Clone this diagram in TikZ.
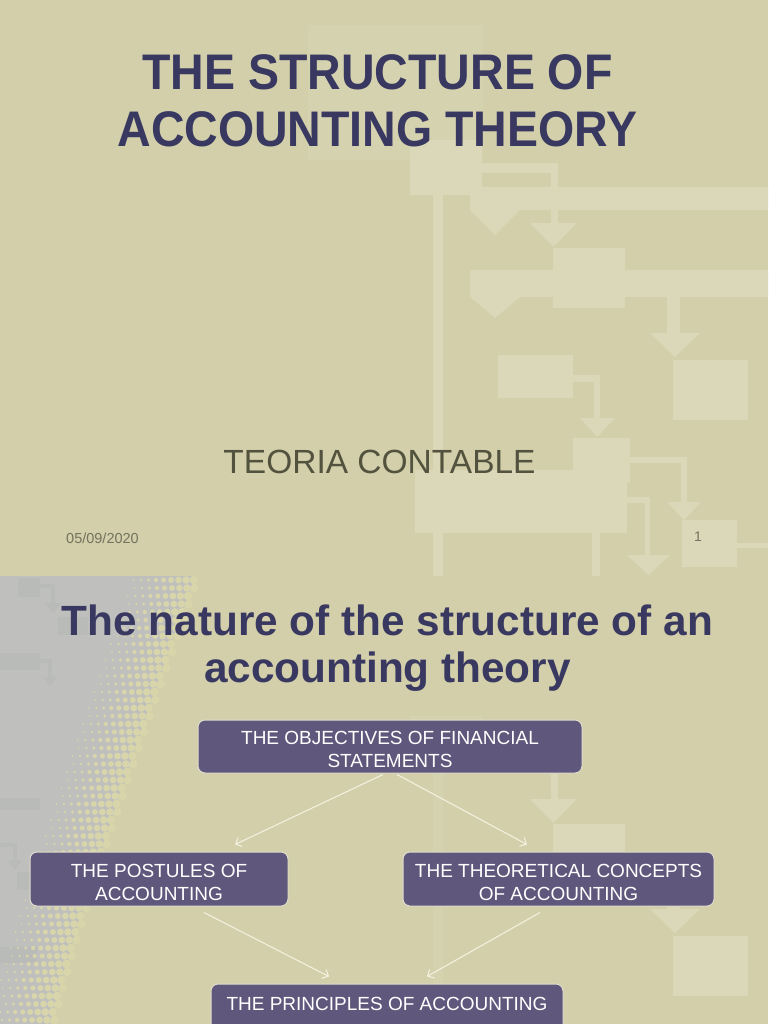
\documentclass[tikz,border=0pt]{standalone}
\usepackage{fontspec}
\setmainfont{Liberation Sans}
\usetikzlibrary{arrows.meta,positioning}
\definecolor{slidebg}{RGB}{210,207,170}
\definecolor{decolight}{RGB}{218,216,185}
\definecolor{decofaint}{RGB}{213,210,175}
\definecolor{panelgray}{RGB}{191,192,189}
\definecolor{panelshape}{RGB}{185,187,184}
\definecolor{dotcol}{RGB}{216,213,170}
\definecolor{titlecol}{RGB}{56,56,96}
\definecolor{subcol}{RGB}{82,82,62}
\definecolor{datecol}{RGB}{115,115,95}
\definecolor{boxfill}{RGB}{96,88,124}
\definecolor{boxline}{RGB}{224,221,205}
\definecolor{arrowcol}{RGB}{242,240,222}

\begin{document}
\begin{tikzpicture}
    [x=1pt,y=-1pt,
    deco/.style={fill=decolight},
    faint/.style={fill=decofaint},
    grayshape/.style={fill=panelshape},
    box/.style={draw=boxline,line width=1pt,fill=boxfill,rounded corners=7pt,
        text=white,align=center,inner sep=0pt,font=\fontsize{19}{23}\selectfont,
        text height=42.6},
    link/.style={draw=arrowcol,line width=1.1pt,-{Straight Barb[length=5pt,width=10pt]}}]
    \useasboundingbox (0,0) rectangle (768,1024);
    \begin{scope}
    \clip (0,0) rectangle (768,1024);

    % first slide
    \fill[slidebg] (0,0) rectangle (768,576);
    \fill[faint] (308,25) rectangle (483,160);
    \fill[deco] (433,150) rectangle (443,576);
    \fill[deco] (410,140) rectangle (482,195);
    \fill[deco] (482,163) rectangle (557,173);
    \fill[deco] (551,163) rectangle (558,223);
    \fill[deco] (530,223) -- (577,223) -- (553.5,247) -- cycle;
    \fill[deco] (470,187) -- (768,187) -- (768,210) -- (520,210) -- (495,235) -- (470,210) -- cycle;
    \fill[deco] (553,248) rectangle (625,308);
    \fill[deco] (470,270) -- (768,270) -- (768,297) -- (520,297) -- (495,318) -- (470,297) -- cycle;
    \fill[deco] (667,297) rectangle (680,333);
    \fill[deco] (650,333) -- (700,333) -- (675,357) -- cycle;
    \fill[deco] (673,360) rectangle (748,420);
    \fill[deco] (498,355) rectangle (573,398);
    \fill[deco] (573,375) rectangle (600,382);
    \fill[deco] (594,375) rectangle (600,418);
    \fill[deco] (580,418) -- (615,418) -- (597,437) -- cycle;
    \fill[deco] (573,438) rectangle (630,483);
    \fill[deco] (630,457) rectangle (687,463);
    \fill[deco] (681,457) rectangle (687,502);
    \fill[deco] (667,502) -- (701,502) -- (684,520) -- cycle;
    \fill[deco] (737,543) rectangle (768,548);
    \fill[deco] (682,520) rectangle (737,567);
    \fill[deco] (415,470) rectangle (627,533);
    \fill[deco] (592,483) rectangle (600,576);
    \fill[deco] (627,497) rectangle (650,503);
    \fill[deco] (645,497) rectangle (650,555);
    \fill[deco] (627,555) -- (670,555) -- (648.5,575) -- cycle;

    \node[text=titlecol,font=\bfseries\fontsize{50}{57}\selectfont,align=center,inner sep=0pt,
        xscale=0.93,transform shape]
        (title) at (377.5,100.6) {THE STRUCTURE OF\\ACCOUNTING THEORY};
    \node[text=subcol,font=\fontsize{33.5}{40}\selectfont,inner sep=0pt]
        (subtitle) at (379.5,462) {TEORIA CONTABLE};
    \node[text=datecol,font=\fontsize{14.5}{17}\selectfont,inner sep=0pt]
        (date) at (102.5,538) {05/09/2020};
    \node[text=datecol,font=\fontsize{14}{17}\selectfont,inner sep=0pt]
        (slidenum) at (698,537) {1};

    % second slide
    \fill[slidebg] (0,576) rectangle (768,1024);
    \fill[faint] (433,716) rectangle (443,1024);
    \fill[faint] (410,716) rectangle (482,771);
    \fill[deco] (551,739) rectangle (558,799);
    \fill[deco] (530,799) -- (577,799) -- (553.5,823) -- cycle;
    \fill[deco] (553,824) rectangle (625,884);
    \fill[deco] (667,873) rectangle (680,909);
    \fill[deco] (650,909) -- (700,909) -- (675,933) -- cycle;
    \fill[deco] (673,936) rectangle (748,996);

    % gray panel and halftone edge
    \fill[panelgray] (0,576) -- plot[domain=576:1020,samples=40] ({50+145*((1024-\x)/448)^1.1},\x)
        -- (50,1024) -- (0,1024) -- cycle;
    \fill[grayshape] (18,578) rectangle (40,597);
    \fill[grayshape] (40,584) rectangle (55,588);
    \fill[grayshape] (51,584) rectangle (55,603);
    \fill[grayshape] (45,603) -- (61,603) -- (53,613) -- cycle;
    \fill[grayshape] (58,617) rectangle (88,635);
    \fill[grayshape] (0,653) rectangle (40,670);
    \fill[grayshape] (40,659) rectangle (52,663);
    \fill[grayshape] (48,659) rectangle (52,677);
    \fill[grayshape] (43,677) -- (57,677) -- (50,686) -- cycle;
    \fill[grayshape] (0,798) rectangle (40,810);
    \fill[grayshape] (0,843) rectangle (17,847);
    \fill[grayshape] (13,843) rectangle (17,860);
    \fill[grayshape] (8,860) -- (22,860) -- (15,870) -- cycle;
    \fill[grayshape] (17,872) rectangle (37,890);
    \fill[grayshape] (0,947) rectangle (37,963);
    \foreach \row in {0,...,55}
    {
        \pgfmathsetmacro\yy{580+8*\row}
        \pgfmathsetmacro\xb{50+145*((1024-\yy)/448)^1.1}
        \pgfmathsetmacro\off{mod(\row,2)*3.75}
        \foreach \k in {0,...,8}
        {
            \pgfmathsetmacro\rr{4.2-0.42*\k}
            \fill[dotcol] (\xb-7.5*\k+\off,\yy) circle (\rr);
        }
    }

    \node[text=titlecol,font=\bfseries\fontsize{42.3}{47}\selectfont,align=center,inner sep=0pt]
        (nature) at (387.5,648.5) {The nature of the structure of an\\accounting theory};

    \node[box,minimum width=384,minimum height=53] (objectives) at (390,746.5)
        {THE OBJECTIVES OF FINANCIAL\\STATEMENTS};
    \node[box,minimum width=258,minimum height=54] (postules) at (159,879)
        {THE POSTULES OF\\ACCOUNTING};
    \node[box,minimum width=311,minimum height=54] (concepts) at (558.5,879)
        {THE THEORETICAL CONCEPTS\\OF ACCOUNTING};
    \node[box,minimum width=352,minimum height=54,text height=21,text depth=22] (principles) at (387,1011)
        {THE PRINCIPLES OF ACCOUNTING};

    \draw[link] ([shift={(-7,1)}]objectives.south) -- ([shift={(76,-7)}]postules.north);
    \draw[link] ([shift={(7,1)}]objectives.south) -- ([shift={(-31.5,-7)}]concepts.north);
    \draw[link] ([shift={(45,6)}]postules.south) -- ([shift={(-58,-7)}]principles.north);
    \draw[link] ([shift={(-18.5,6)}]concepts.south) -- ([shift={(40,-7)}]principles.north);
    \end{scope}
\end{tikzpicture}
\end{document}
